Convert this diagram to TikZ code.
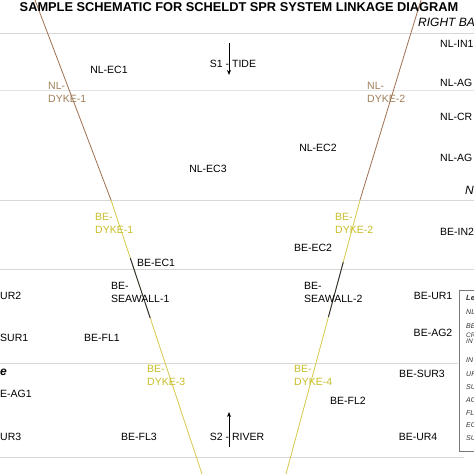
\documentclass[tikz,border=0pt]{standalone}
\usepackage{fontspec}
\setmainfont{Liberation Sans}
\usetikzlibrary{arrows.meta}
\definecolor{gridgray}{RGB}{215,215,215}
\definecolor{nlline}{RGB}{160,112,82}
\definecolor{nltext}{RGB}{160,128,88}
\definecolor{beline}{RGB}{212,202,70}
\definecolor{betext}{RGB}{200,190,40}
\definecolor{swline}{RGB}{45,45,65}
\definecolor{legframe}{RGB}{120,120,120}
\begin{document}
\begin{tikzpicture}[x=1pt,y=-1pt,
  lbl/.style={inner sep=0pt, font=\fontsize{10.5}{13}\selectfont, text height=7.5pt, text depth=0pt},
  lbl2/.style={inner sep=0pt, font=\fontsize{10.5}{13}\selectfont, align=left, anchor=north west},
  region/.style={inner sep=0pt, font=\fontsize{12}{14}\selectfont\itshape, text height=8.6pt, text depth=0pt, anchor=west},
  legtxt/.style={inner sep=0pt, font=\fontsize{7}{7}\selectfont\itshape, anchor=west, text height=5pt, text depth=0pt, color=black!80},
  sep/.style={draw=gridgray, line width=0.9pt},
  nldyke/.style={draw=nlline, line width=0.8pt},
  bedyke/.style={draw=beline, line width=0.8pt},
  seawall/.style={draw=swline, line width=0.9pt},
  flow/.style={draw=black, line width=0.9pt, -{Stealth[length=5pt,width=4pt]}}]
\useasboundingbox (0,0) rectangle (474,474);
\clip (0,0) rectangle (474,474);
\fill[white] (0,0) rectangle (474,474);

% separators
\coordinate (h1a) at (0,33);  \coordinate (h1b) at (474,33);
\coordinate (h2a) at (0,90.5);  \coordinate (h2b) at (474,90.5);
\coordinate (h3a) at (0,200.5); \coordinate (h3b) at (474,200.5);
\coordinate (h4a) at (0,269.5); \coordinate (h4b) at (474,269.5);
\coordinate (h5a) at (0,363); \coordinate (h5b) at (458,363);
\coordinate (h6a) at (0,457.5); \coordinate (h6b) at (464,457.5);
\draw[sep] (h1a) -- (h1b);
\draw[sep, draw=gridgray!70] (h2a) -- (h2b);
\draw[sep] (h3a) -- (h3b);
\draw[sep] (h4a) -- (h4b);
\draw[sep] (h5a) -- (h5b);
\draw[sep] (h6a) -- (h6b);

% dyke lines
\coordinate (l0) at (35,0);
\coordinate (l1) at (111,200);
\coordinate (l2) at (202,474);
\coordinate (r0) at (421,0);
\coordinate (r1) at (360,200);
\coordinate (r2) at (286,474);
\draw[nldyke] (l0) -- (l1);
\draw[bedyke] (l1) -- (l2);
\draw[nldyke] (r0) -- (r1);
\draw[bedyke] (r1) -- (r2);
\coordinate (sw1a) at (130.3,258);
\coordinate (sw1b) at (150.2,318);
\coordinate (sw2a) at (343.3,262);
\coordinate (sw2b) at (328.4,317);
\draw[seawall] (sw1a) -- (sw1b);
\draw[seawall] (sw2a) -- (sw2b);

% title
\node[inner sep=0pt, font=\fontsize{12.8}{14}\selectfont\bfseries] (title) at (239,7) {SAMPLE SCHEMATIC FOR SCHELDT SPR SYSTEM LINKAGE DIAGRAM};
\node[region] (rightbank) at (418,22) {RIGHT BANK};
\node[region] (nreg) at (465,190) {N};
\node[region, font=\fontsize{12}{14}\selectfont\bfseries\itshape] (ereg) at (0,371) {e};

% sources
\node[lbl] (s1) at (233,64) {S1 - TIDE};
\coordinate (s1top) at (229,43);
\coordinate (s1bot) at (229,75);
\draw[flow] (s1top) -- (s1bot);
\node[lbl] (s2) at (237,437) {S2 - RIVER};
\coordinate (s2bot) at (229,447);
\coordinate (s2top) at (229,412);
\draw[flow] (s2bot) -- (s2top);

% NL labels
\node[lbl] (nlec1) at (109,70) {NL-EC1};
\node[lbl] (nlec2) at (318,148) {NL-EC2};
\node[lbl] (nlec3) at (208,169) {NL-EC3};
\node[lbl2, text=nltext] (nldyke1) at (48,82.3) {NL-\\DYKE-1};
\node[lbl2, text=nltext] (nldyke2) at (367,82.3) {NL-\\DYKE-2};
\node[lbl, anchor=west] (nlin1) at (440,44) {NL-IN1};
\node[lbl, anchor=west] (nlag1) at (440,83) {NL-AG};
\node[lbl, anchor=west] (nlcr) at (440,117) {NL-CR};
\node[lbl, anchor=west] (nlag2) at (440,158) {NL-AG};

% BE labels
\node[lbl2, text=betext] (bedyke1) at (95,213.3) {BE-\\DYKE-1};
\node[lbl2, text=betext] (bedyke2) at (335,213.3) {BE-\\DYKE-2};
\node[lbl2, text=betext] (bedyke3) at (147,365.3) {BE-\\DYKE-3};
\node[lbl2, text=betext] (bedyke4) at (294,365.3) {BE-\\DYKE-4};
\node[lbl, anchor=west] (bein2) at (440,232) {BE-IN2};
\node[lbl] (beec2) at (313,248) {BE-EC2};
\node[lbl] (beec1) at (156,263) {BE-EC1};
\node[lbl2] (besw1) at (111,282.3) {BE-\\SEAWALL-1};
\node[lbl2] (besw2) at (304,282.3) {BE-\\SEAWALL-2};
\node[lbl, anchor=west] (ur2) at (0,296) {UR2};
\node[lbl] (beur1) at (433,296) {BE-UR1};
\node[lbl, anchor=west] (sur1) at (0,338) {SUR1};
\node[lbl] (befl1) at (102,338) {BE-FL1};
\node[lbl] (beag2) at (433,333) {BE-AG2};
\node[lbl] (besur3) at (422,374) {BE-SUR3};
\node[lbl] (befl2) at (348,401) {BE-FL2};
\node[lbl, anchor=west] (eag1) at (0,394) {E-AG1};
\node[lbl] (befl3) at (139,437) {BE-FL3};
\node[lbl, anchor=west] (ur3) at (0,437) {UR3};
\node[lbl] (beur4) at (418,437) {BE-UR4};

% legend
\node[draw=legframe, line width=0.9pt, minimum width=40pt, minimum height=161pt, anchor=north west, inner sep=0pt] (legend) at (458.5,290) {};
\node[legtxt, font=\fontsize{7.5}{7.5}\selectfont\bfseries\itshape] (lg0) at (466,298) {Legend};
\node[legtxt] (lg1) at (466,312) {NL};
\node[legtxt] (lg2) at (466,326) {BE};
\node[legtxt, align=left, font=\fontsize{6.5}{6.5}\selectfont\itshape] (lg3) at (466,341) {CR\\IN};
\node[legtxt] (lg4) at (466,360) {IN};
\node[legtxt] (lg5) at (466,374) {UR};
\node[legtxt] (lg6) at (466,387) {SU};
\node[legtxt] (lg7) at (466,400) {AG};
\node[legtxt] (lg8) at (466,413) {FL};
\node[legtxt] (lg9) at (466,425) {EC};
\node[legtxt] (lg10) at (466,438) {SU};
\end{tikzpicture}
\end{document}
